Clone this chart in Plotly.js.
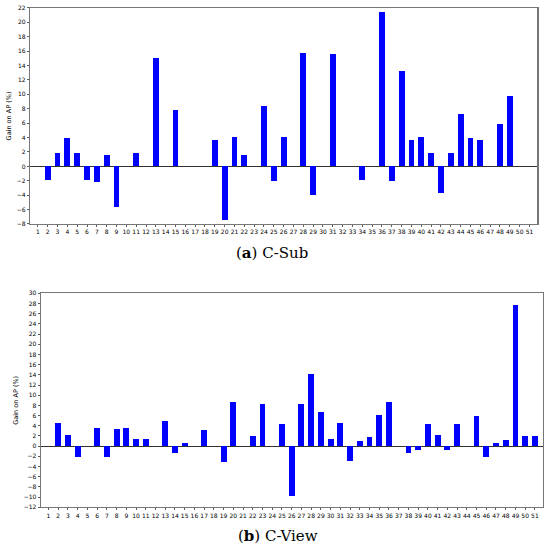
<!DOCTYPE html>
<html>
<head>
<meta charset="utf-8">
<script src="https://cdn.plot.ly/plotly-3.0.1.min.js"></script>
<style>html,body{margin:0;padding:0;background:#fff;}#chart{width:550px;height:547px;}</style>
</head>
<body>
<div id="chart"></div>
<script>
const categories = Array.from({length: 51}, (_, i) => i + 1);
const cSubValues = [0, -1.9, 1.9, 3.9, 1.85, -1.9, -2.1, 1.6, -5.6, 0,
  1.8, 0, 15.05, 0, 7.8, 0, 0, 0, 3.65, -7.45,
  4.1, 1.55, 0, 8.35, -2.0, 4.1, 0, 15.75, -3.95, 0,
  15.65, 0, 0, -1.9, 0, 21.5, -2.0, 13.3, 3.65, 4.1,
  1.8, -3.75, 1.9, 7.3, 3.9, 3.65, 0, 5.9, 9.8, 0, 0];
const cViewValues = [0, 4.5, 2.1, -2.1, 0, 3.5, -2.1, 3.4, 3.5, 1.4,
  1.5, 0, 5.0, -1.4, 0.7, 0, 3.1, 0, -3.05, 8.75,
  0, 1.9, 8.2, 0, 4.3, -9.75, 8.3, 14.25, 6.7, 1.35,
  4.45, -2.9, 1.1, 1.75, 6.15, 8.6, 0, -1.25, -0.75, 4.3,
  2.15, -0.8, 4.3, 0, 5.85, -2.1, 0.7, 1.3, 27.8, 1.9, 1.95];
const subTicks = Array.from({length: 16}, (_, i) => -8 + 2 * i);
const viewTicks = Array.from({length: 22}, (_, i) => -12 + 2 * i);
const yTitle = 'Gain on AP (%)';
const captionA = '(<b>a</b>) C-Sub';
const captionB = '(<b>b</b>) C-View';

const tickFont = {family: 'DejaVu Sans', size: 6, color: '#000'};
function xAxis(domain, anchor) {
  return {domain: domain, anchor: anchor, range: [0.2, 51.8], tickmode: 'array',
    tickvals: categories, ticktext: categories.map(String), tickangle: 0,
    ticks: 'outside', ticklen: 2, tickwidth: 0.8, tickcolor: '#333',
    showline: true, linecolor: '#777', linewidth: 1.2, mirror: true,
    showgrid: false, zeroline: false, tickfont: tickFont, fixedrange: true};
}
function yAxis(domain, anchor, ticks) {
  return {domain: domain, anchor: anchor, range: [ticks[0], ticks[ticks.length - 1]],
    tickmode: 'array', tickvals: ticks, ticktext: ticks.map(v => v < 0 ? '\u2212' + (-v) : String(v)),
    ticks: 'outside', ticklen: 2, tickwidth: 0.8, tickcolor: '#333',
    showline: true, linecolor: '#777', linewidth: 1.2, mirror: true,
    showgrid: false, zeroline: true, zerolinecolor: '#333', zerolinewidth: 1,
    tickfont: tickFont, fixedrange: true,
    title: {text: yTitle, font: {family: 'DejaVu Sans', size: 6.5, color: '#000'}, standoff: 4}};
}

const traces = [
  {type: 'bar', x: categories, y: cSubValues, xaxis: 'x', yaxis: 'y', width: 0.6,
   marker: {color: '#0000ff', line: {width: 0}}, hoverinfo: 'x+y'},
  {type: 'bar', x: categories, y: cViewValues, xaxis: 'x2', yaxis: 'y2', width: 0.6,
   marker: {color: '#0000ff', line: {width: 0}}, hoverinfo: 'x+y'}
];

const layout = {
  width: 550, height: 547,
  margin: {l: 0, r: 0, t: 0, b: 0},
  paper_bgcolor: '#fff', plot_bgcolor: '#fff',
  showlegend: false, bargap: 0,
  xaxis: xAxis([0.0545, 0.977], 'y'),
  yaxis: yAxis([0.5905, 0.9854], 'x', subTicks),
  xaxis2: xAxis([0.074, 0.9867], 'y2'),
  yaxis2: yAxis([0.0726, 0.4638], 'x2', viewTicks),
  annotations: [
    {text: captionA, xref: 'paper', yref: 'paper', x: 0.495, y: (547 - 253) / 547,
     xanchor: 'center', yanchor: 'middle', showarrow: false,
     font: {family: 'DejaVu Serif', size: 15, color: '#000'}},
    {text: captionB, xref: 'paper', yref: 'paper', x: 0.505, y: (547 - 536) / 547,
     xanchor: 'center', yanchor: 'middle', showarrow: false,
     font: {family: 'DejaVu Serif', size: 15, color: '#000'}}
  ]
};

Plotly.newPlot('chart', traces, layout, {displayModeBar: false, staticPlot: true});
</script>
</body>
</html>
